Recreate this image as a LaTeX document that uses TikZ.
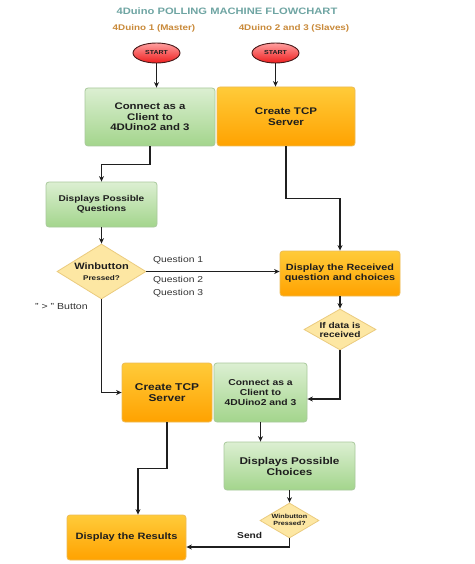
\documentclass[tikz,border=0pt]{standalone}
\usepackage{fontspec}
\setmainfont{Liberation Sans}[FakeStretch=1.2]
\usetikzlibrary{shapes.geometric,arrows.meta,calc}
\definecolor{titlec}{HTML}{6FA5A3}
\definecolor{subc}{HTML}{C98A3A}
\definecolor{gtop}{HTML}{DCEFD2}
\definecolor{gbot}{HTML}{A3D58C}
\definecolor{gbord}{HTML}{A9C99C}
\definecolor{otop}{HTML}{FFCB3A}
\definecolor{obot}{HTML}{FFA200}
\definecolor{obord}{HTML}{EDBB55}
\definecolor{dfill}{HTML}{FDE7A3}
\definecolor{dbord}{HTML}{EBCB7E}
\definecolor{rtop}{HTML}{FFA0A0}
\definecolor{rbot}{HTML}{EE1E1E}
\definecolor{rbord}{HTML}{4A1A1A}
\definecolor{txt}{HTML}{1E1E1E}
\definecolor{lbl}{HTML}{333333}
\newcommand{\fs}[2]{\fontsize{#1}{#2}\selectfont}
\tikzset{
  gbox/.style={draw=gbord, line width=0.8pt, rounded corners=3pt, top color=gtop, bottom color=gbot, align=center, text=txt, font=\bfseries, inner sep=1pt},
  obox/.style={draw=obord, line width=0.8pt, rounded corners=3pt, top color=otop, bottom color=obot, align=center, text=txt, font=\bfseries, inner sep=1pt},
  dia/.style={diamond, draw=dbord, line width=0.8pt, fill=dfill, inner sep=0pt},
  dtext/.style={align=center, text=txt, font=\bfseries, inner sep=0pt},
  startn/.style={ellipse, draw=rbord, line width=0.9pt, top color=rtop, bottom color=rbot, inner sep=0pt, minimum width=47pt, minimum height=20pt, text=txt, font=\bfseries\fs{5.8}{6}},
  conn/.style={draw=black!88, line width=1.25pt, -{Stealth[length=5.5pt,width=5pt]}},
  qlabel/.style={anchor=west, text=lbl, inner sep=0pt, font=\fs{8.6}{9}}
}
\begin{document}
\begin{tikzpicture}[x=1pt,y=-1pt]
\useasboundingbox[fill=white] (0,0) rectangle (474,564);
% titles
\node[text=titlec, font=\bfseries\fs{9.3}{10}] (title) at (227,11) {4Duino POLLING MACHINE FLOWCHART};
\node[text=subc, font=\bfseries\fs{8.2}{9}] (sub1) at (154,28) {4Duino 1 (Master)};
\node[text=subc, font=\bfseries\fs{8.2}{9}] (sub2) at (294,28) {4Duino 2 and 3 (Slaves)};
% start nodes
\node[startn] (s1) at (156.5,53) {START};
\node[startn] (s2) at (275.5,53) {START};
% boxes
\node[gbox, minimum width=130pt, minimum height=58pt, font=\bfseries\fs{9.5}{10.5}] (b1) at (150,117) {Connect as a\\Client to\\4DUino2 and 3};
\node[obox, minimum width=138pt, minimum height=59pt, font=\bfseries\fs{9.6}{10.5}] (b2) at (286,116.5) {Create TCP\\Server};
\node[gbox, minimum width=111pt, minimum height=45pt, font=\bfseries\fs{8.4}{9.5}] (b3) at (101.5,204.5) {Displays Possible\\Questions};
\node[dia, minimum width=89pt, minimum height=55pt] (d1) at (101.5,271.5) {};
\node[dtext] (d1t) at (101.5,272) {{\fs{9.2}{9}Winbutton}\\[-1pt]{\fs{6.8}{7}Pressed?}};
\node[obox, minimum width=120pt, minimum height=45pt, font=\bfseries\fs{9}{10}] (b4) at (340,273.5) {Display the Received\\question and choices};
\node[dia, minimum width=72pt, minimum height=41pt] (d2) at (340,329.5) {};
\node[dtext, font=\bfseries\fs{8.4}{9}] (d2t) at (340,329.5) {If data is\\received};
\node[obox, minimum width=90pt, minimum height=59pt, font=\bfseries\fs{9.9}{10.5}] (b5) at (167,392.5) {Create TCP\\Server};
\node[gbox, minimum width=93pt, minimum height=59pt, font=\bfseries\fs{8.6}{10}] (b6) at (260.5,392.5) {Connect as a\\Client to\\4DUino2 and 3};
\node[gbox, minimum width=131pt, minimum height=48pt, font=\bfseries\fs{9.8}{11}] (b7) at (289.5,466) {Displays Possible\\Choices};
\node[dia, minimum width=59pt, minimum height=35pt] (d3) at (289.5,520.5) {};
\node[dtext, font=\bfseries\fs{6}{6.5}] (d3t) at (289.5,520) {Winbutton\\Pressed?};
\node[obox, minimum width=119pt, minimum height=45pt, font=\bfseries\fs{9.2}{10}] (b8) at (126.5,537.5) {Display the Results};
% labels
\node[qlabel] (q1) at (153,260) {Question 1};
\node[qlabel] (q2) at (153,280) {Question 2};
\node[qlabel] (q3) at (153,293) {Question 3};
\node[qlabel, font=\fs{8.8}{9}] (btn) at (35,307) {" > " Button};
\node[qlabel, text=txt, font=\bfseries\fs{8.5}{9}] (send) at (237,535) {Send};
% connectors
\draw[conn] (s1) -- (s1 |- b1.north);
\draw[conn] (s2) -- (s2 |- b2.north);
\draw[conn] (b1.south) -- ++(0,18) -| (b3.north);
\draw[conn] (b3.south) -- (d1.north);
\draw[conn] (b2.south) -- ++(0,52) -| (b4.north);
\draw[conn] (d1.east) -- (d1.east -| b4.west);
\draw[conn] (b4.south) -- (d2.north);
\draw[conn] (d1.south) |- (b5.west);
\draw[conn] (d2.south) |- ([yshift=-6.5pt]b6.east);
\draw[conn] (b6.south) -- (b6.south |- b7.north);
\draw[conn] (b7.south) -- (d3.north);
\draw[conn] (d3.south) |- ([yshift=-9.5pt]b8.east);
\draw[conn] (b5.south) -- ++(0,46) -| ([xshift=11.5pt]b8.north);
\end{tikzpicture}
\end{document}
